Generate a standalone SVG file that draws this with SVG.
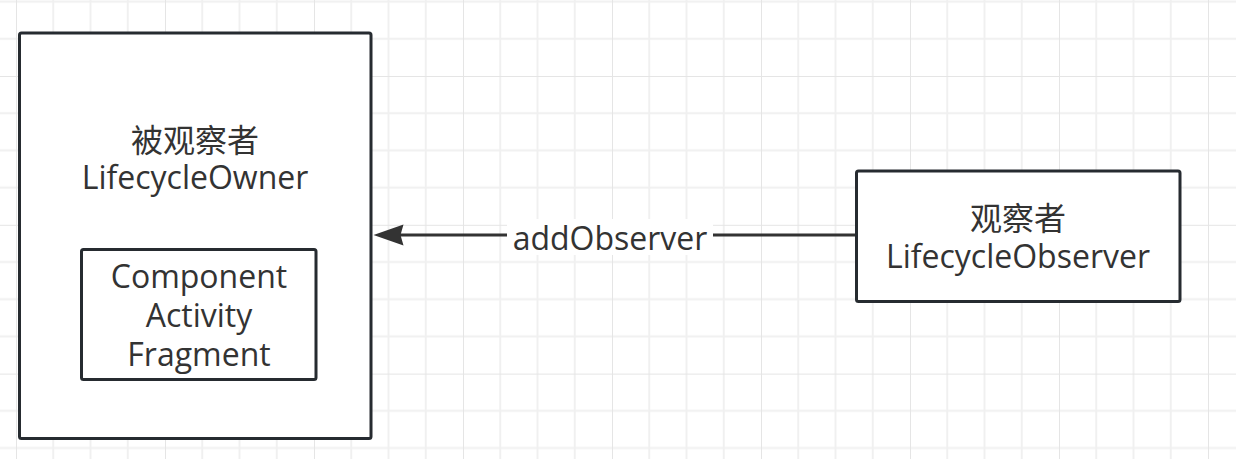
<svg xmlns="http://www.w3.org/2000/svg" width="1236" height="459" viewBox="0 0 1236 459">
  <style>
    .box { fill: #ffffff; stroke: #262b30; stroke-width: 3; }
    .txt { font-family: "Open Sans", "Noto Sans CJK SC", sans-serif; font-size: 32px; fill: #333333; text-anchor: middle; }
    .edge { fill: none; stroke: #333333; stroke-width: 3; }
  </style>
  <defs>
    <pattern id="grid" patternUnits="userSpaceOnUse" x="16" y="76" width="149" height="148.8">
      <g stroke="#f0f0f0" stroke-width="2">
        <line x1="37.25" y1="0" x2="37.25" y2="148.8"/>
        <line x1="74.5" y1="0" x2="74.5" y2="148.8"/>
        <line x1="111.75" y1="0" x2="111.75" y2="148.8"/>
        <line x1="0" y1="37.2" x2="149" y2="37.2"/>
        <line x1="0" y1="74.4" x2="149" y2="74.4"/>
        <line x1="0" y1="111.6" x2="149" y2="111.6"/>
      </g>
      <g stroke="#e5e5e5" stroke-width="2">
        <line x1="0" y1="0" x2="0" y2="148.8"/>
        <line x1="0" y1="0" x2="149" y2="0"/>
      </g>
    </pattern>
    <marker id="arrow" markerUnits="userSpaceOnUse" markerWidth="32" markerHeight="24" refX="3.5" refY="12" orient="auto">
      <path d="M30,12 L0,1.5 L3,12 L0,22.5 Z" fill="#333333"/>
    </marker>
  </defs>
  <rect x="0" y="0" width="1236" height="459" fill="#ffffff"/>
  <rect x="0" y="0" width="1236" height="459" fill="url(#grid)"/>

  <g id="connectors">
    <line class="edge" x1="856" y1="235" x2="400" y2="235" marker-end="url(#arrow)"/>
    <rect x="507" y="219" width="206" height="36" fill="#ffffff"/>
    <text class="txt" x="610" y="250">addObserver</text>
  </g>

  <g id="owner">
    <rect class="box" x="19.5" y="33" width="351.5" height="405.5" rx="2"/>
    <text class="txt" x="195" y="152">被观察者</text>
    <text class="txt" x="195" y="189">LifecycleOwner</text>
  </g>

  <g id="component">
    <rect class="box" x="81.5" y="249.5" width="234.5" height="130" rx="2"/>
    <text class="txt" x="199" y="288">Component</text>
    <text class="txt" x="199" y="327">Activity</text>
    <text class="txt" x="199" y="366">Fragment</text>
  </g>

  <g id="observer">
    <rect class="box" x="856.5" y="171" width="323.5" height="130.5" rx="2"/>
    <text class="txt" x="1018" y="230">观察者</text>
    <text class="txt" x="1018" y="268">LifecycleObserver</text>
  </g>
</svg>
